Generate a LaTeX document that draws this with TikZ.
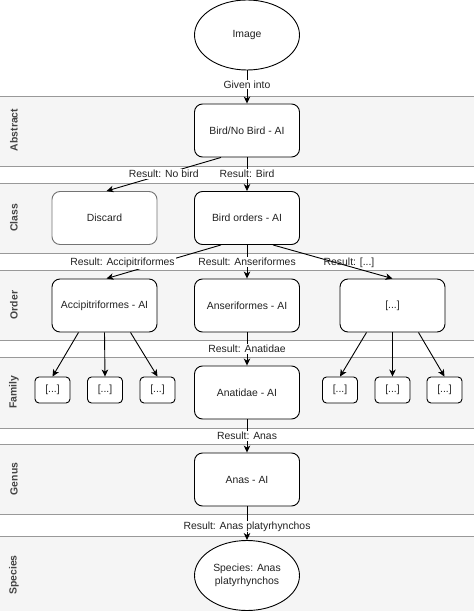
\documentclass[tikz,border=0pt]{standalone}
\usepackage{fontspec}
\setmainfont{Liberation Sans}
\usetikzlibrary{shapes.geometric,arrows.meta}
\definecolor{bandfill}{HTML}{F5F5F5}
\definecolor{bandline}{HTML}{999999}
\definecolor{txt}{HTML}{222222}
\begin{document}
\begin{tikzpicture}[x=1pt,y=-1pt,
  font=\fontsize{10.4}{13}\selectfont,
  every node/.style={text=txt},
  band/.style={fill=bandfill,draw=none},
  bandsep/.style={draw=bandline,line width=1pt},
  bandlabel/.style={rotate=90,font=\fontsize{10.4}{13}\selectfont\bfseries,text=txt!85!white},
  aibox/.style={draw=black,line width=0.9pt,rounded corners=8pt,minimum width=105pt,minimum height=53pt,inner sep=0pt},
  greybox/.style={aibox,draw=black!55},
  smallbox/.style={draw=black,line width=0.9pt,rounded corners=4pt,minimum width=35pt,minimum height=26pt,inner sep=0pt},
  oval/.style={draw=black,line width=0.9pt,ellipse,minimum width=105pt,minimum height=70pt,inner sep=0pt,align=center},
  arr/.style={draw=black,line width=0.9pt,-{Stealth[length=7pt,width=6.5pt,inset=2pt]}},
  lbl/.style={fill=white,inner sep=1pt},
  lblclear/.style={inner sep=1pt}
]
\useasboundingbox (0,0) rectangle (474,615);
\fill[white] (0,0) rectangle (474,615);
% bands
\foreach \a/\b in {97/166,183/253,270/340,357/428,444/514,536/611}{
  \fill[band] (0,\a) rectangle (474,\b);
}
\foreach \a/\b in {97/166,183/253,270/340,357/428,444/514}{
  \draw[bandsep] (0,\a) -- (474,\a);
  \draw[bandsep] (0,\b) -- (474,\b);
}
\draw[bandsep] (0,536) -- (474,536);
% band labels
\node[bandlabel] (labAbs) at (14,130) {Abstract};
\node[bandlabel] (labCla) at (14,218) {Class};
\node[bandlabel] (labOrd) at (14,305) {Order};
\node[bandlabel] (labFam) at (14,392) {Family};
\node[bandlabel] (labGen) at (14,479) {Genus};
\node[bandlabel] (labSpe) at (14,575) {Species};
% nodes
\node[oval,fill=white] (img) at (247,35) {Image};
\node[aibox,fill=white] (bnb) at (247,130.5) {Bird/No Bird - AI};
\node[greybox,fill=white] (discard) at (104.5,218) {Discard};
\node[aibox,fill=white] (border) at (247,218) {Bird orders - AI};
\node[aibox,fill=white] (acc) at (104.5,305.5) {Accipitriformes - AI};
\node[aibox,fill=white] (ans) at (247,305.5) {Anseriformes - AI};
\node[aibox,fill=white] (odots) at (392.5,305.5) {[...]};
\node[smallbox,fill=white] (f1) at (52.5,390) {[...]};
\node[smallbox,fill=white] (f2) at (105,390) {[...]};
\node[smallbox,fill=white] (f3) at (157.5,390) {[...]};
\node[aibox,fill=white] (anat) at (247,392.5) {Anatidae - AI};
\node[smallbox,fill=white] (f4) at (340,390) {[...]};
\node[smallbox,fill=white] (f5) at (392.5,390) {[...]};
\node[smallbox,fill=white] (f6) at (444.5,390) {[...]};
\node[aibox,fill=white] (anas) at (247,479.5) {Anas - AI};
\node[oval,fill=white] (spec) at (247,575.5) {Species: Anas\\platyrhynchos};
% connectors
\draw[arr] (img) -- (bnb) node[lbl,pos=0.42] (lGiven) {Given into};
\draw[arr] ([xshift=-26pt]bnb.south) -- ([xshift=2pt]discard.north) node[lbl,midway] (lNo) {Result: No bird};
\draw[arr] (bnb) -- (border) node[lbl,midway] (lBird) {Result: Bird};
\draw[arr] ([xshift=-26pt]border.south) -- ([xshift=2pt]acc.north);
\node[lbl] (lAcc) at (122.5,263) {Result: Accipitriformes};
\draw[arr] (border) -- (ans) node[lbl,midway] (lAns) {Result: Anseriformes};
\draw[arr] ([xshift=26pt]border.south) -- (odots.north);
\node[lblclear] (lDots) at (349,263) {Result: [...]};
\draw[arr] ([xshift=-26pt]acc.south) -- (f1.north);
\draw[arr] (acc.south) -- (f2.north);
\draw[arr] ([xshift=26pt]acc.south) -- (f3.north);
\draw[arr] ([xshift=-26pt]odots.south) -- (f4.north);
\draw[arr] (odots.south) -- (f5.north);
\draw[arr] ([xshift=26pt]odots.south) -- (f6.north);
\draw[arr] (ans) -- (anat) node[lbl,midway] (lAnat) {Result: Anatidae};
\draw[arr] (anat) -- (anas) node[lbl,midway] (lAnas) {Result: Anas};
\draw[arr] (anas) -- (spec) node[lbl,pos=0.6] (lSpec) {Result: Anas platyrhynchos};
\end{tikzpicture}
\end{document}
